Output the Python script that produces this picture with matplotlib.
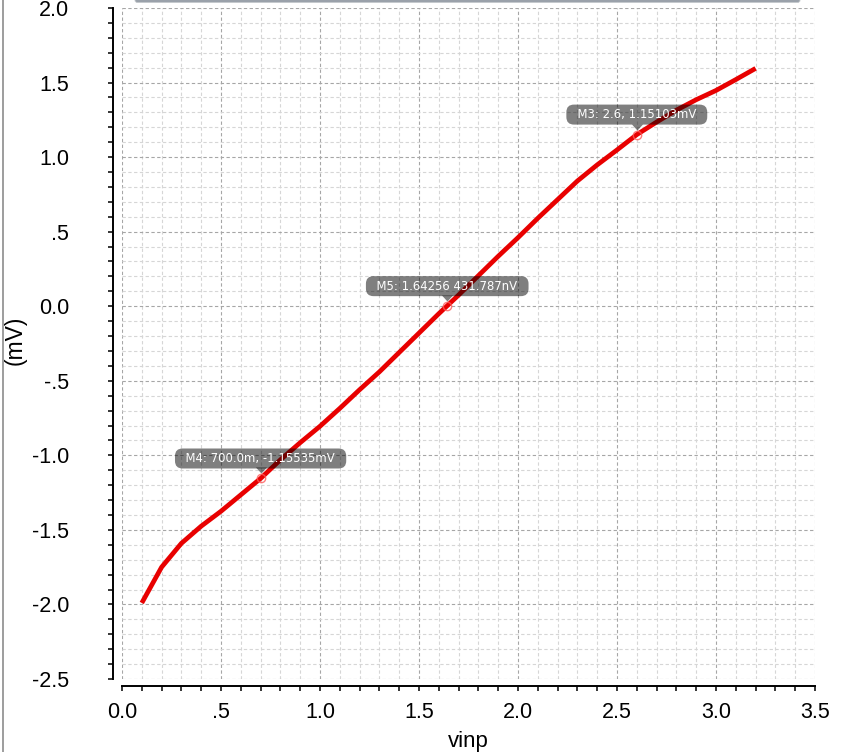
import numpy as np
import matplotlib
matplotlib.use("Agg")
import matplotlib.pyplot as plt
from matplotlib.ticker import MultipleLocator, FixedLocator, FixedFormatter
from matplotlib.patches import FancyBboxPatch
from matplotlib.lines import Line2D
from matplotlib.path import Path
import matplotlib.transforms as mtransforms

# sweep data
vinp = [0.1, 0.2, 0.3, 0.4, 0.5, 0.6, 0.7, 0.8, 0.9, 1.0,
        1.1, 1.2, 1.3, 1.4, 1.5, 1.6, 1.7, 1.8, 1.9, 2.0,
        2.1, 2.2, 2.3, 2.4, 2.5, 2.6, 2.7, 2.8, 2.9, 3.0,
        3.1, 3.2]
vout_mv = [-1.99, -1.75, -1.59, -1.475, -1.375, -1.265, -1.155, -1.03, -0.915, -0.805,
           -0.685, -0.56, -0.44, -0.31, -0.18, -0.05, 0.075, 0.205, 0.335, 0.46,
           0.59, 0.715, 0.84, 0.948, 1.048, 1.151, 1.235, 1.315, 1.385, 1.447,
           1.52, 1.595]

# markers
marker_x = [2.6, 1.64256, 0.7]
marker_y = [1.15103, 0.000431787, -1.15535]
marker_text = ["M3: 2.6, 1.15103mV", "M5: 1.64256 431.787nV", "M4: 700.0m, -1.15535mV"]

xtick_vals = [0.0, 0.5, 1.0, 1.5, 2.0, 2.5, 3.0, 3.5]
xtick_text = ["0.0", ".5", "1.0", "1.5", "2.0", "2.5", "3.0", "3.5"]
ytick_vals = [2.0, 1.5, 1.0, 0.5, 0.0, -0.5, -1.0, -1.5, -2.0, -2.5]
ytick_text = ["2.0", "1.5", "1.0", ".5", "0.0", "-.5", "-1.0", "-1.5", "-2.0", "-2.5"]

plt.rcParams['font.family'] = ['Liberation Sans', 'DejaVu Sans']

W, H = 841, 752
fig = plt.figure(figsize=(W / 100, H / 100), dpi=100)
ax = fig.add_axes([122 / W, 1 - 679 / H, (815 - 122) / W, (679 - 8) / H])

ax.set_xlim(0, 3.5)
ax.set_ylim(-2.5, 2.0)

ax.plot(vinp, vout_mv, color='#e80000', lw=3.4, solid_capstyle='butt',
        solid_joinstyle='round', zorder=3)

# grid
ax.xaxis.set_major_locator(FixedLocator(xtick_vals))
ax.xaxis.set_major_formatter(FixedFormatter(xtick_text))
ax.yaxis.set_major_locator(FixedLocator(ytick_vals))
ax.yaxis.set_major_formatter(FixedFormatter(ytick_text))
ax.xaxis.set_minor_locator(MultipleLocator(0.1))
ax.yaxis.set_minor_locator(MultipleLocator(0.1))
ax.grid(which='major', color='#a6a6a6', ls=(0, (3, 2.2)), lw=0.8)
ax.grid(which='minor', color='#d6d6d6', ls=(0, (3, 2.2)), lw=0.8)
ax.set_axisbelow(True)

for s in ['top', 'right']:
    ax.spines[s].set_visible(False)
ax.spines['left'].set_position(('outward', 6.5))
ax.spines['bottom'].set_position(('outward', 5))
for s in ['left', 'bottom']:
    ax.spines[s].set_linewidth(1.4)

ax.tick_params(which='both', direction='out', length=3.5, width=1.1, color='black')
ax.tick_params(axis='y', which='major', pad=28, labelsize=15.5)
ax.tick_params(axis='x', which='major', pad=8, labelsize=15.5)

ax.set_xlabel('vinp', fontsize=16)
ax.xaxis.set_label_coords(0.5, -0.078)
ax.set_ylabel('(mV)', fontsize=16.5)
ax.yaxis.set_label_coords(-0.137, 0.505)

# marker annotations
tri = Path([(-1, 0.55), (1, 0.55), (0, -0.55), (-1, 0.55)],
           [Path.MOVETO, Path.LINETO, Path.LINETO, Path.CLOSEPOLY])
tri_tr = mtransforms.offset_copy(ax.transData, fig=fig, x=0, y=8, units='dots')
for mx, my, txt in zip(marker_x, marker_y, marker_text):
    ax.plot([mx], [my], marker='o', ms=6, mfc='none', mec='#ff5a5a',
            mew=1.0, alpha=0.8, zorder=4)
    ax.plot([mx], [my], marker=tri, ms=8, color='black', alpha=0.5,
            ls='none', mew=0, transform=tri_tr, zorder=5)
    ax.annotate("  " + txt + "  ", xy=(mx, my), xytext=(0, 20),
                textcoords='offset pixels', ha='center', va='center',
                fontsize=8.4, color='white', family='DejaVu Sans', zorder=6,
                bbox=dict(boxstyle='round,pad=0.3,rounding_size=0.65',
                          fc='black', ec='none', alpha=0.5))

# window decorations: left border and clipped legend bar at top
fig.add_artist(Line2D([2.5 / W, 2.5 / W], [0, 1], color='#8c8c8c', lw=1.2))
fig.add_artist(FancyBboxPatch((135 / W, 1 - 2.5 / H), (800 - 135) / W, 6 / H,
                              boxstyle='round,pad=0,rounding_size=0.003',
                              fc='#9aa1aa', ec='#c4c8cc', lw=0.6))

fig.savefig('out.png', dpi=100)
